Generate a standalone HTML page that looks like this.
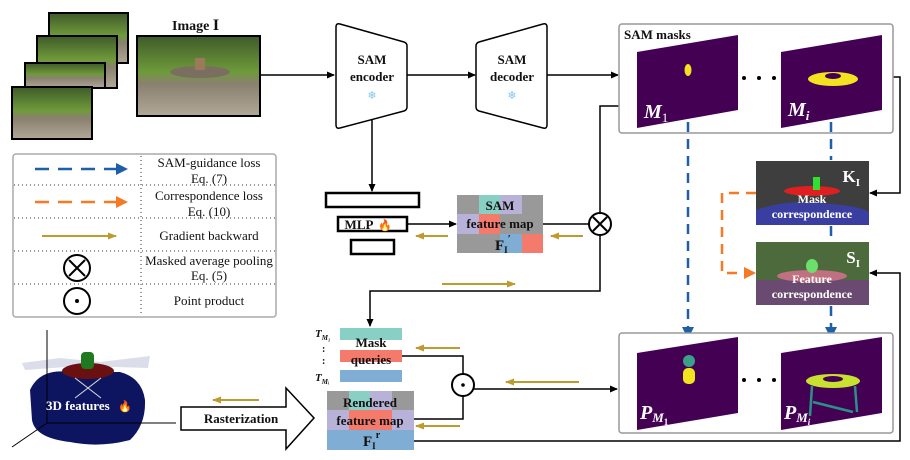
<!DOCTYPE html>
<html><head><meta charset="utf-8"><style>
html,body{margin:0;padding:0;background:#fff;width:910px;height:460px;overflow:hidden}
svg{display:block}
.b{font-family:"Liberation Serif",serif;font-weight:bold;fill:#111}
.r{font-family:"Liberation Serif",serif;fill:#111}
.w{font-family:"Liberation Serif",serif;font-weight:bold;fill:#fff}
</style></head><body>
<svg width="910" height="460" viewBox="0 0 910 460" xmlns="http://www.w3.org/2000/svg">
<defs>
<linearGradient id="ph" x1="0" y1="0" x2="0" y2="1">
<stop offset="0" stop-color="#3f5a2a"/><stop offset="0.45" stop-color="#6f9a3a"/><stop offset="0.6" stop-color="#8a8070"/><stop offset="1" stop-color="#b0a898"/></linearGradient>
<marker id="ak" markerWidth="8" markerHeight="8" refX="7" refY="4" orient="auto" markerUnits="userSpaceOnUse"><path d="M0,0.5 L8,4 L0,7.5 z" fill="#000"/></marker>
<marker id="ab" markerWidth="12" markerHeight="12" refX="11" refY="6" orient="auto" markerUnits="userSpaceOnUse"><path d="M0,0 L12,6 L0,12 z" fill="#1f5fa8"/></marker>
<marker id="ao" markerWidth="12" markerHeight="12" refX="11" refY="6" orient="auto" markerUnits="userSpaceOnUse"><path d="M0,0 L12,6 L0,12 z" fill="#f47a25"/></marker>
<marker id="ag" markerWidth="9" markerHeight="8" refX="8" refY="4" orient="auto" markerUnits="userSpaceOnUse"><path d="M0,0.5 L9,4 L0,7.5 z" fill="#bf9a2e"/></marker>
</defs>

<!-- photo stack -->
<g stroke="#000" stroke-width="2">
<rect x="49" y="13" width="79" height="50" fill="url(#ph)"/>
<rect x="37" y="36" width="80" height="52" fill="url(#ph)"/>
<rect x="25" y="63" width="80" height="25" fill="url(#ph)"/>
<rect x="12" y="87" width="80" height="52" fill="url(#ph)"/>
<rect x="137" y="36" width="123" height="80" fill="url(#ph)"/>
</g>
<ellipse cx="200" cy="72" rx="30" ry="6" fill="#7a6e60"/>
<rect x="195" y="58" width="10" height="12" fill="#9a7a58"/>
<text x="172" y="30" class="b" font-size="14">Image <tspan font-size="16">I</tspan></text>

<!-- encoder / decoder -->
<path d="M336,27 Q336,23 340,24 L404,42 Q407,43 407,46 L407,107 Q407,110 404,111 L340,128 Q336,129 336,125 Z" fill="#fff" stroke="#000" stroke-width="1.5"/>
<text x="372" y="64" class="b" font-size="13" text-anchor="middle">SAM</text>
<text x="372" y="81" class="b" font-size="13" text-anchor="middle">encoder</text>
<text x="372" y="99" font-size="11" fill="#7fc6f0" text-anchor="middle">❄</text>
<path d="M476,46 Q476,43 479,42 L543,24 Q547,23 547,27 L547,125 Q547,129 543,128 L479,111 Q476,110 476,107 Z" fill="#fff" stroke="#000" stroke-width="1.5"/>
<text x="512" y="64" class="b" font-size="13" text-anchor="middle">SAM</text>
<text x="512" y="81" class="b" font-size="13" text-anchor="middle">decoder</text>
<text x="512" y="99" font-size="11" fill="#7fc6f0" text-anchor="middle">❄</text>

<g stroke="#000" stroke-width="1.5" fill="none">
<line x1="260" y1="75" x2="334" y2="75" marker-end="url(#ak)"/>
<line x1="407" y1="75" x2="475" y2="75" marker-end="url(#ak)"/>
<line x1="547" y1="75" x2="618" y2="75" marker-end="url(#ak)"/>
<line x1="372" y1="120" x2="372" y2="191" marker-end="url(#ak)"/>
<line x1="407" y1="224" x2="456" y2="224" marker-end="url(#ak)"/>
<line x1="543" y1="224" x2="589" y2="224"/>
<polyline points="619,106 600,106 600,213"/>
<polyline points="600,235 600,291 370,291 370,326" marker-end="url(#ak)"/>
<polyline points="402,356 463,356 463,374"/>
<polyline points="463,396 463,419 414,419"/>
<line x1="474" y1="389" x2="617" y2="389" marker-end="url(#ak)"/>
<polyline points="414,441 900,441 900,273 870,273" marker-end="url(#ak)"/>
<polyline points="893,77 900,77 900,193 870,193" marker-end="url(#ak)"/>
</g>

<!-- SAM masks box -->
<rect x="619" y="24" width="274" height="109" rx="3" fill="#fff" stroke="#999" stroke-width="1.5"/>
<text x="624" y="39" class="b" font-size="13">SAM masks</text>
<polygon points="637,52 738,35 738,110 637,128" fill="#440154"/>
<polygon points="781,52 882,35 882,110 781,128" fill="#440154"/>
<ellipse cx="688" cy="70" rx="3.5" ry="6" fill="#f2e21f"/>
<ellipse cx="833" cy="79" rx="25" ry="7" fill="#f2e21f"/>
<ellipse cx="833" cy="76" rx="8" ry="3" fill="#440154"/>
<g fill="#000"><circle cx="744" cy="78" r="2"/><circle cx="759" cy="78" r="2"/><circle cx="774" cy="78" r="2"/></g>
<text x="644" y="118" class="w" font-size="20" font-style="italic">M<tspan font-size="13" font-style="normal" font-weight="normal" dy="4">1</tspan></text>
<text x="788" y="116" class="w" font-size="20" font-style="italic">M<tspan font-size="13" dy="4">i</tspan></text>

<!-- blue dashed -->
<g stroke="#1f5fa8" stroke-width="2.5" stroke-dasharray="10,7" fill="none">
<line x1="688" y1="122" x2="688" y2="338" marker-end="url(#ab)"/>
<line x1="831" y1="122" x2="831" y2="160"/>
<line x1="831" y1="226" x2="831" y2="241"/>
<line x1="831" y1="306" x2="831" y2="338" marker-end="url(#ab)"/>
</g>
<!-- orange dashed -->
<polyline points="756,193 722,193 722,273 755,273" stroke="#f47a25" stroke-width="2.5" stroke-dasharray="10,7" fill="none" marker-end="url(#ao)"/>

<!-- K_I -->
<rect x="756" y="161" width="113" height="64" fill="#3e3e3e"/>
<path d="M756,210 Q790,198 830,204 Q860,206 869,212 L869,225 L756,225 Z" fill="#3a3ea0"/>
<ellipse cx="812" cy="191" rx="28" ry="5" fill="#e02020"/>
<rect x="813" y="177" width="7" height="13" fill="#30e030"/>
<text x="860" y="182" class="w" font-size="17" text-anchor="end">K<tspan font-size="11" dy="4">I</tspan></text>
<text x="812" y="203" class="w" font-size="12" text-anchor="middle">Mask</text>
<text x="812" y="218" class="w" font-size="12" text-anchor="middle">correspondence</text>

<!-- S_I -->
<rect x="756" y="242" width="113" height="63" fill="#4d6a3c"/>
<rect x="756" y="280" width="113" height="25" fill="#6a4a70"/>
<ellipse cx="812" cy="276" rx="35" ry="6" fill="#c07080"/>
<ellipse cx="812" cy="266" rx="6" ry="7" fill="#6ae06a"/>
<text x="860" y="263" class="w" font-size="17" text-anchor="end">S<tspan font-size="11" dy="4">I</tspan></text>
<text x="812" y="283" class="w" font-size="12" text-anchor="middle">Feature</text>
<text x="812" y="298" class="w" font-size="12" text-anchor="middle">correspondence</text>

<!-- P masks box -->
<rect x="619" y="333" width="274" height="100" rx="3" fill="#fff" stroke="#999" stroke-width="1.5"/>
<polygon points="637,353 738,337 738,413 637,430" fill="#440154"/>
<polygon points="781,353 882,337 882,413 781,430" fill="#440154"/>
<rect x="683" y="368" width="12" height="16" rx="5" fill="#f2e21f"/>
<ellipse cx="689" cy="361" rx="6" ry="6" fill="#3aa08a"/>
<ellipse cx="833" cy="381" rx="27" ry="7" fill="#c8e030"/>
<ellipse cx="833" cy="379" rx="10" ry="3" fill="#440154"/>
<g stroke="#2a9088" stroke-width="2.5"><line x1="812" y1="386" x2="810" y2="416"/><line x1="855" y1="386" x2="857" y2="412"/><line x1="813" y1="402" x2="853" y2="412"/></g>
<g fill="#000"><circle cx="744" cy="380" r="2"/><circle cx="759" cy="380" r="2"/><circle cx="774" cy="380" r="2"/></g>
<text x="640" y="419" class="w" font-size="20" font-style="italic">P<tspan font-size="13" dy="3">M</tspan><tspan font-size="9" font-style="normal" dy="3">1</tspan></text>
<text x="784" y="419" class="w" font-size="20" font-style="italic">P<tspan font-size="13" dy="3">M</tspan><tspan font-size="9" dy="3">i</tspan></text>

<!-- MLP -->
<g fill="#fff" stroke="#000" stroke-width="2.5">
<rect x="326" y="193" width="93" height="14"/>
<rect x="338" y="217" width="69" height="14"/>
<rect x="351" y="240" width="43" height="14"/>
</g>
<text x="359" y="229" class="b" font-size="13" text-anchor="middle">MLP</text><text x="378" y="229" font-size="11">🔥</text>

<!-- SAM feature map -->
<rect x="457" y="195" width="86" height="58" fill="#999"/>
<rect x="479" y="195" width="21" height="19" fill="#88cfc4"/>
<rect x="500" y="195" width="22" height="19" fill="#b8b2d8"/>
<rect x="457" y="214" width="22" height="20" fill="#b8b2d8"/>
<rect x="479" y="214" width="21" height="20" fill="#f47a6c"/>
<rect x="500" y="234" width="22" height="19" fill="#80add4"/>
<rect x="522" y="234" width="21" height="19" fill="#f47a6c"/>
<text x="500" y="210" class="b" font-size="13" text-anchor="middle">SAM</text>
<text x="500" y="228" class="b" font-size="13" text-anchor="middle">feature map</text>
<text x="495" y="250" class="b" font-size="15">F<tspan font-size="9" dy="3">I</tspan><tspan font-size="11" dy="-11">′</tspan></text>

<!-- otimes -->
<circle cx="600" cy="224" r="11" fill="#fff" stroke="#000" stroke-width="2"/>
<path d="M593,217 L607,231 M607,217 L593,231" stroke="#000" stroke-width="2"/>
<!-- odot -->
<circle cx="463" cy="385" r="11" fill="#fff" stroke="#000" stroke-width="2"/>
<circle cx="463" cy="385" r="1.8" fill="#000"/>

<!-- mask queries -->
<rect x="340" y="328" width="62" height="12" fill="#88cfc4"/>
<rect x="340" y="350" width="62" height="12" fill="#f47a6c"/>
<rect x="340" y="370" width="62" height="12" fill="#80add4"/>
<text x="371" y="347" class="b" font-size="13" text-anchor="middle">Mask</text>
<text x="371" y="364" class="b" font-size="13" text-anchor="middle">queries</text>
<text x="315" y="337" class="b" font-size="11" font-style="italic">T<tspan font-size="7" dy="3">M₁</tspan></text>
<text x="322" y="352" class="b" font-size="10">:</text>
<text x="322" y="364" class="b" font-size="10">:</text>
<text x="315" y="381" class="b" font-size="11" font-style="italic">T<tspan font-size="7" dy="3">Mᵢ</tspan></text>

<!-- rendered feature map -->
<rect x="327" y="391" width="87" height="59" fill="#80add4"/>
<rect x="327" y="391" width="22" height="19" fill="#999"/>
<rect x="349" y="391" width="21" height="19" fill="#88cfc4"/>
<rect x="370" y="391" width="22" height="19" fill="#b8b2d8"/>
<rect x="392" y="391" width="22" height="19" fill="#999"/>
<rect x="327" y="410" width="22" height="20" fill="#b8b2d8"/>
<rect x="349" y="410" width="43" height="20" fill="#f47a6c"/>
<rect x="392" y="410" width="22" height="20" fill="#b8b2d8"/>
<text x="370" y="407" class="b" font-size="13" text-anchor="middle">Rendered</text>
<text x="370" y="425" class="b" font-size="13" text-anchor="middle">feature map</text>
<text x="363" y="446" class="b" font-size="15">F<tspan font-size="9" dy="3">I</tspan><tspan font-size="10" dy="-11">r</tspan></text>

<!-- gold arrows -->
<g stroke="#bf9a2e" stroke-width="2" fill="none">
<line x1="448" y1="236" x2="416" y2="236" marker-end="url(#ag)"/>
<line x1="583" y1="236" x2="551" y2="236" marker-end="url(#ag)"/>
<line x1="442" y1="284" x2="515" y2="284" marker-end="url(#ag)"/>
<line x1="460" y1="348" x2="416" y2="348" marker-end="url(#ag)"/>
<line x1="579" y1="382" x2="506" y2="382" marker-end="url(#ag)"/>
<line x1="460" y1="426" x2="416" y2="426" marker-end="url(#ag)"/>
<line x1="259" y1="400" x2="213" y2="400" marker-end="url(#ag)"/>
</g>

<!-- Rasterization -->
<path d="M181,407 L286,407 L286,388 L314,418 L286,449 L286,430 L181,430 Z" fill="#fff" stroke="#000" stroke-width="1.5"/>
<text x="241" y="423" class="b" font-size="13" text-anchor="middle">Rasterization</text>

<!-- 3D features -->
<path d="M30,390 Q40,368 70,372 L120,372 Q142,378 145,400 Q146,425 130,440 Q100,448 70,442 Q35,438 32,420 Z" fill="#0d1560"/>
<path d="M22,363 L60,358 L100,362 L150,356 L148,368 L80,366 L25,370 Z" fill="#b8bcd8" opacity="0.5"/>
<ellipse cx="88" cy="371" rx="26" ry="8" fill="#6a1010"/>
<rect x="81" y="352" width="13" height="17" rx="4" fill="#1f7a1f"/>
<path d="M75,378 L101,398 M101,378 L75,398" stroke="#ddd" stroke-width="1"/>
<g stroke="#000" stroke-width="1" fill="none">
<line x1="47" y1="330" x2="47" y2="423"/>
<line x1="47" y1="423" x2="176" y2="423"/>
<line x1="47" y1="423" x2="12" y2="447"/>
</g>
<text x="46" y="410" class="w" font-size="13">3D features</text><text x="118" y="410" font-size="11">🔥</text>

<!-- legend -->
<rect x="13" y="154" width="263" height="163" rx="3" fill="#fff" stroke="#aaa" stroke-width="1.5"/>
<g stroke="#333" stroke-width="1" stroke-dasharray="1,3">
<line x1="141" y1="156" x2="141" y2="315"/>
<line x1="14" y1="185" x2="275" y2="185"/>
<line x1="14" y1="218" x2="275" y2="218"/>
<line x1="14" y1="251" x2="275" y2="251"/>
<line x1="14" y1="284" x2="275" y2="284"/>
</g>
<line x1="35" y1="169" x2="127" y2="169" stroke="#1f5fa8" stroke-width="2.5" stroke-dasharray="14,9" marker-end="url(#ab)"/>
<line x1="35" y1="202" x2="127" y2="202" stroke="#f47a25" stroke-width="2.5" stroke-dasharray="14,9" marker-end="url(#ao)"/>
<line x1="42" y1="236" x2="116" y2="236" stroke="#bf9a2e" stroke-width="2" marker-end="url(#ag)"/>
<circle cx="77" cy="268" r="13" fill="#fff" stroke="#000" stroke-width="2"/>
<path d="M69,260 L85,276 M85,260 L69,276" stroke="#000" stroke-width="2"/>
<circle cx="77" cy="301" r="13" fill="#fff" stroke="#000" stroke-width="2"/>
<circle cx="77" cy="301" r="2" fill="#000"/>
<g class="r" font-size="13" text-anchor="middle">
<text x="209" y="167">SAM-guidance loss</text>
<text x="209" y="183">Eq. (7)</text>
<text x="209" y="200">Correspondence loss</text>
<text x="209" y="216">Eq. (10)</text>
<text x="209" y="240">Gradient backward</text>
<text x="209" y="265">Masked average pooling</text>
<text x="209" y="280">Eq. (5)</text>
<text x="209" y="305">Point product</text>
</g>
</svg>
</body></html>
